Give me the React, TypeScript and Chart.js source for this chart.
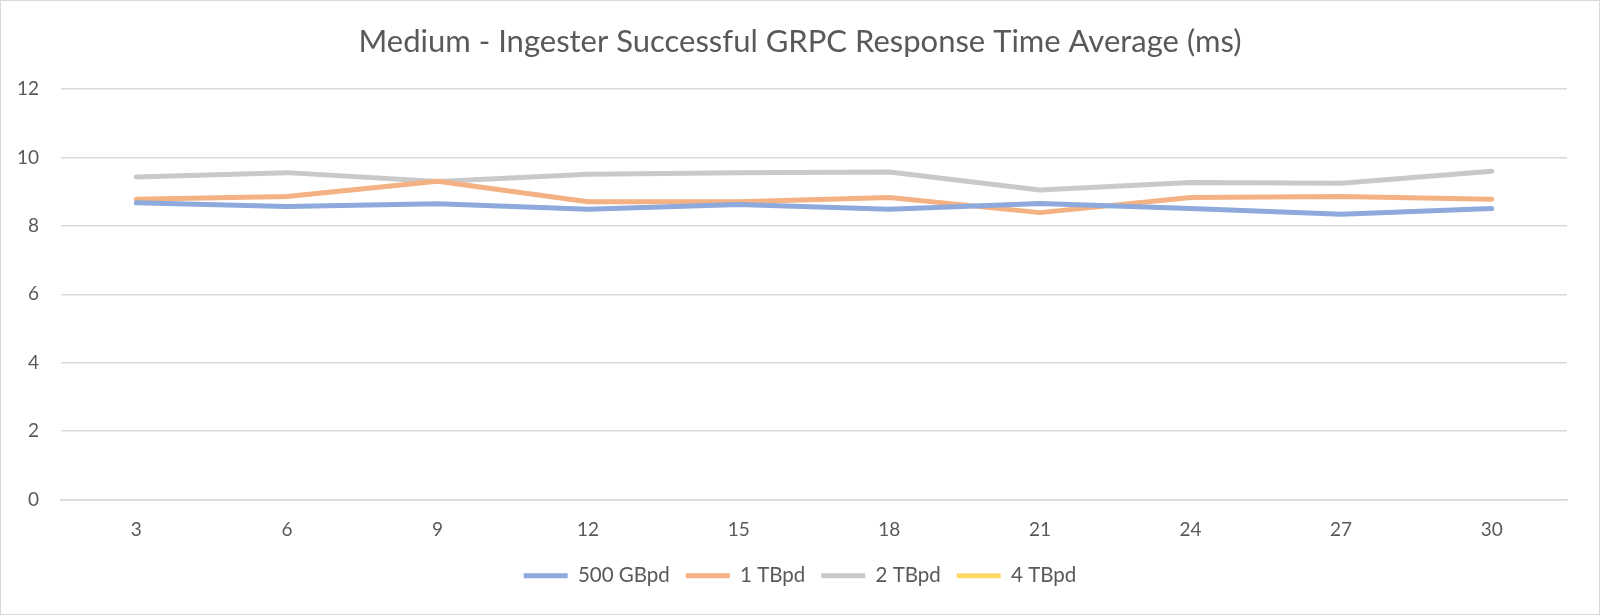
import React, { useEffect, useRef } from "react";
import { Chart, registerables } from "chart.js";

Chart.register(...registerables);

const categories = ["3", "6", "9", "12", "15", "18", "21", "24", "27", "30"];
const gb500 = [8.68, 8.57, 8.65, 8.49, 8.63, 8.49, 8.66, 8.51, 8.34, 8.51];
const tb1 = [8.78, 8.86, 9.31, 8.71, 8.71, 8.83, 8.39, 8.83, 8.86, 8.78];
const tb2 = [9.43, 9.56, 9.3, 9.51, 9.56, 9.58, 9.05, 9.27, 9.25, 9.6];
const tb4: (number | null)[] = [null, null, null, null, null, null, null, null, null, null];
const seriesNames = ["500 GBpd", "1 TBpd", "2 TBpd", "4 TBpd"];
const titleText = "Medium - Ingester Successful GRPC Response Time Average (ms)";

const FONT = "Lato, 'Open Sans', sans-serif";
const TEXT = "#595959";

// centre the title and legend on the whole canvas (not on the padded area)
const centerBlocks = {
  id: "centerBlocks",
  afterLayout(chart: any) {
    const cx = chart.width / 2;
    for (const box of [chart.titleBlock, chart.legend]) {
      if (!box) continue;
      const d = cx - (box.left + box.right) / 2;
      box.left += d;
      box.right += d;
    }
  },
};

export default function App() {
  const ref = useRef<HTMLCanvasElement | null>(null);

  useEffect(() => {
    document.body.style.margin = "0";
    if (!ref.current) return;
    const colors = ["#8EA9DB", "#F4B183", "#C9C9C9", "#FFD966"];
    const values = [gb500, tb1, tb2, tb4];
    const chart = new Chart(ref.current, {
      type: "line",
      data: {
        labels: categories,
        datasets: values.map((v, i) => ({
          label: seriesNames[i],
          data: v,
          borderColor: colors[i],
          backgroundColor: colors[i],
          borderWidth: 5,
          borderCapStyle: "round" as const,
          borderJoinStyle: "round" as const,
          pointRadius: 0,
          pointHoverRadius: 0,
          tension: 0,
          fill: false,
        })),
      },
      options: {
        animation: false,
        responsive: false,
        maintainAspectRatio: false,
        layout: { padding: { left: 8, right: 32, top: 0, bottom: 18 } },
        plugins: {
          title: {
            display: true,
            text: titleText,
            color: TEXT,
            font: { family: FONT, size: 31, weight: "normal" },
            padding: { top: 22, bottom: 29 },
          },
          legend: {
            position: "bottom",
            labels: {
              color: TEXT,
              font: { family: FONT, size: 20.5 },
              usePointStyle: true,
              pointStyle: "line",
              pointStyleWidth: 44,
              boxWidth: 44,
              boxHeight: 20,
              padding: 16,
            },
          },
          tooltip: { enabled: false },
        },
        scales: {
          x: {
            offset: true,
            grid: { display: false, drawTicks: false },
            border: { display: true, color: "#D9D9D9", width: 1.5 },
            ticks: { color: TEXT, font: { family: FONT, size: 19 }, padding: 19 },
            afterFit: (scale: any) => {
              scale.height = 50;
            },
          },
          y: {
            min: 0,
            max: 12,
            ticks: {
              stepSize: 2,
              color: TEXT,
              font: { family: FONT, size: 19 },
              padding: 22,
            },
            grid: { color: "#D9D9D9", lineWidth: 1.5, drawTicks: false },
            border: { display: false },
            afterFit: (scale: any) => {
              scale.width = 52;
            },
          },
        },
      },
      plugins: [centerBlocks],
    });
    return () => chart.destroy();
  }, []);

  return (
    <div
      style={{
        width: 1600,
        height: 615,
        boxSizing: "border-box",
        border: "1px solid #D9D9D9",
        background: "#fff",
        position: "relative",
      }}
    >
      <canvas ref={ref} width={1598} height={613} style={{ display: "block" }} />
    </div>
  );
}
